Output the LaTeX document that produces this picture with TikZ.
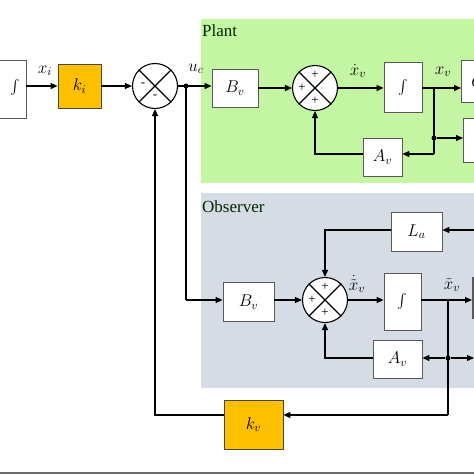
\RequirePackage{fix-cm}
\documentclass[tikz,border=0pt]{standalone}
\usepackage{exscale}
\usepackage{fontspec}
\setmainfont{Liberation Serif}
\usetikzlibrary{arrows.meta}
\definecolor{plantgreen}{HTML}{C4F5A2}
\definecolor{obsgray}{HTML}{D6DCE5}
\definecolor{gainorange}{HTML}{FFC000}
\definecolor{boxedge}{HTML}{595959}
\tikzset{
  blockbox/.style={draw=boxedge, line width=0.8pt, fill=white, inner sep=0pt,
    font=\fontsize{17}{19}\selectfont},
  intbox/.style={blockbox, font=\fontsize{15}{17}\selectfont},
  gainbox/.style={blockbox, fill=gainorange, draw=boxedge!80!black},
  sumnode/.style={circle, draw=black, line width=1.1pt, fill=white, minimum size=45pt, inner sep=0pt},
  conn/.style={line width=1.1pt, -{Triangle[length=7pt,width=6pt]}},
  wire/.style={line width=1.1pt},
  sig/.style={font=\fontsize{17}{19}\selectfont, inner sep=0pt},
  sgn/.style={font=\fontsize{13}{14}\selectfont, inner sep=0pt},
  regionlabel/.style={font=\fontsize{17}{19}\selectfont, anchor=west, inner sep=0pt, text=black!85!green},
  junction/.style={circle, fill=black, minimum size=5pt, inner sep=0pt}
}
\newcommand{\sumx}[1]{%
  \draw[line width=1.1pt] (#1.45) -- (#1.225);
  \draw[line width=1.1pt] (#1.135) -- (#1.315);}
\begin{document}
\begin{tikzpicture}[x=1pt,y=-1pt]
\useasboundingbox (0,0) rectangle (474,474);
% regions
\fill[plantgreen] (201,19) rectangle (480,183);
\fill[obsgray] (201,193) rectangle (480,388);
\node[regionlabel] (plantlab) at (202,31) {Plant};
\node[regionlabel] (obslab) at (202,207) {Observer};
% bottom bar
\fill[black!58] (0,471.5) rectangle (474,474);

% left chain
\node[blockbox, minimum width=56pt, minimum height=58pt] (intL) at (-2,89) {};
\node[intbox, draw=none, fill=none] (intLtxt) at (15,87) {$\int$};
\node[gainbox, minimum width=43pt, minimum height=44pt] (ki) at (79.5,86) {$k_i$};
\node[sumnode] (s1) at (155,86) {};
\sumx{s1}
\node[sgn] (s1a) at (143,85) {-};
\node[sgn] (s1b) at (155,97) {-};
\coordinate (j1) at (186,86);

% plant
\node[blockbox, minimum width=46pt, minimum height=38pt] (Bv1) at (235,88) {$B_v$};
\node[sumnode] (s2) at (315,88) {};
\sumx{s2}
\node[sgn] (s2l) at (302,88) {+};
\node[sgn] (s2t) at (315,75) {+};
\node[sgn] (s2b) at (315,101) {+};
\node[intbox, minimum width=38pt, minimum height=50pt] (I1) at (403,87) {$\int$};
\node[blockbox, minimum width=40pt, minimum height=42pt, anchor=west] (C1) at (461,81.5) {};
\node[blockbox, minimum width=40pt, minimum height=44pt, anchor=west] (C2) at (463,140) {};
\node[blockbox, draw=none, fill=none] (C1t) at (478,82) {$C$};
\node[blockbox, draw=none, fill=none] (C2t) at (480,140) {$C$};
\coordinate (j2) at (434,88);
\node[junction] (d2) at (434,138) {};
\coordinate (c2) at (434,154);
\node[blockbox, minimum width=39pt, minimum height=38pt] (Av1) at (382.5,157) {$A_v$};

% observer
\node[blockbox, minimum width=51pt, minimum height=39pt] (La) at (416.5,231.5) {$L_a$};
\coordinate (inLa) at (480,230);
\node[sumnode] (s3) at (325,300) {};
\sumx{s3}
\node[sgn] (s3l) at (312,300) {+};
\node[sgn] (s3t) at (325,287) {+};
\node[sgn] (s3b) at (325,313) {+};
\coordinate (c1) at (186,300);
\node[blockbox, minimum width=51pt, minimum height=39pt] (Bv2) at (248.5,302) {$B_v$};
\node[intbox, minimum width=37pt, minimum height=57pt] (I2) at (402.5,301.5) {$\int$};
\node[blockbox, draw=black!65, line width=2pt, minimum width=40pt, minimum height=40pt, anchor=west] (C3) at (472,298) {};
\coordinate (j3) at (448,300);
\node[junction] (d3) at (448,358) {};
\coordinate (outR) at (474,358);
\node[blockbox, minimum width=49pt, minimum height=38pt] (Av2) at (397.5,359) {$A_v$};
\coordinate (c4) at (448,415);
\node[gainbox, minimum width=59pt, minimum height=49pt] (kv) at (253.5,424.5) {$k_v$};

% signal labels
\node[sig] (lxi) at (45,71) {$x_i$};
\node[sig] (luc) at (196,69) {$u_c$};
\node[sig] (lxdv) at (358,71) {$\dot{x}_v$};
\node[sig] (lxv) at (443,72) {$x_v$};
\node[sig] (lxtd) at (357,284) {$\dot{\tilde{x}}_v$};
\node[sig] (lxt) at (452,285) {$\tilde{x}_v$};

% connectors: left chain
\draw[conn] (intL.east |- ki) -- (ki.west);
\draw[conn] (ki.east) -- (s1.west);
\draw[wire] (s1.east) -- (j1);
\draw[conn] (j1) -- (j1 -| Bv1.west);
\node[junction] (dj1) at (j1) {};
\draw[wire] (j1) -- (c1);
\draw[conn] (c1) -- (c1 -| Bv2.west);

% plant connectors
\draw[conn] (Bv1.east) -- (s2.west);
\draw[conn] (s2.east) -- (I1.west |- s2);
\draw[wire] (I1.east |- s2) -- (j2);
\draw[conn] (j2) -- (j2 -| C1.west);
\draw[wire] (j2) -- (c2);
\draw[conn] (d2) -- (d2 -| C2.west);
\draw[conn] (c2) -- (c2 -| Av1.east);
\draw[conn] (c2 -| Av1.west) -- (c2 -| s2.south) -- (s2.south);

% observer connectors
\draw[conn] (inLa) -- (inLa -| La.east);
\draw[conn] (inLa -| La.west) -- (inLa -| s3.north) -- (s3.north);
\draw[conn] (Bv2.east |- s3) -- (s3.west);
\draw[conn] (s3.east) -- (I2.west |- s3);
\draw[conn] (I2.east |- s3) -- (j3 -| C3.west);
\draw[wire] (j3) -- (c4);
\draw[conn] (d3) -- (d3 -| Av2.east);
\draw[conn] (d3) -- (outR);
\draw[conn] (d3 -| Av2.west) -- (d3 -| s3.south) -- (s3.south);
\draw[conn] (c4) -- (c4 -| kv.east);
\draw[conn] (c4 -| kv.west) -- (c4 -| s1.south) -- (s1.south);
\end{tikzpicture}
\end{document}
